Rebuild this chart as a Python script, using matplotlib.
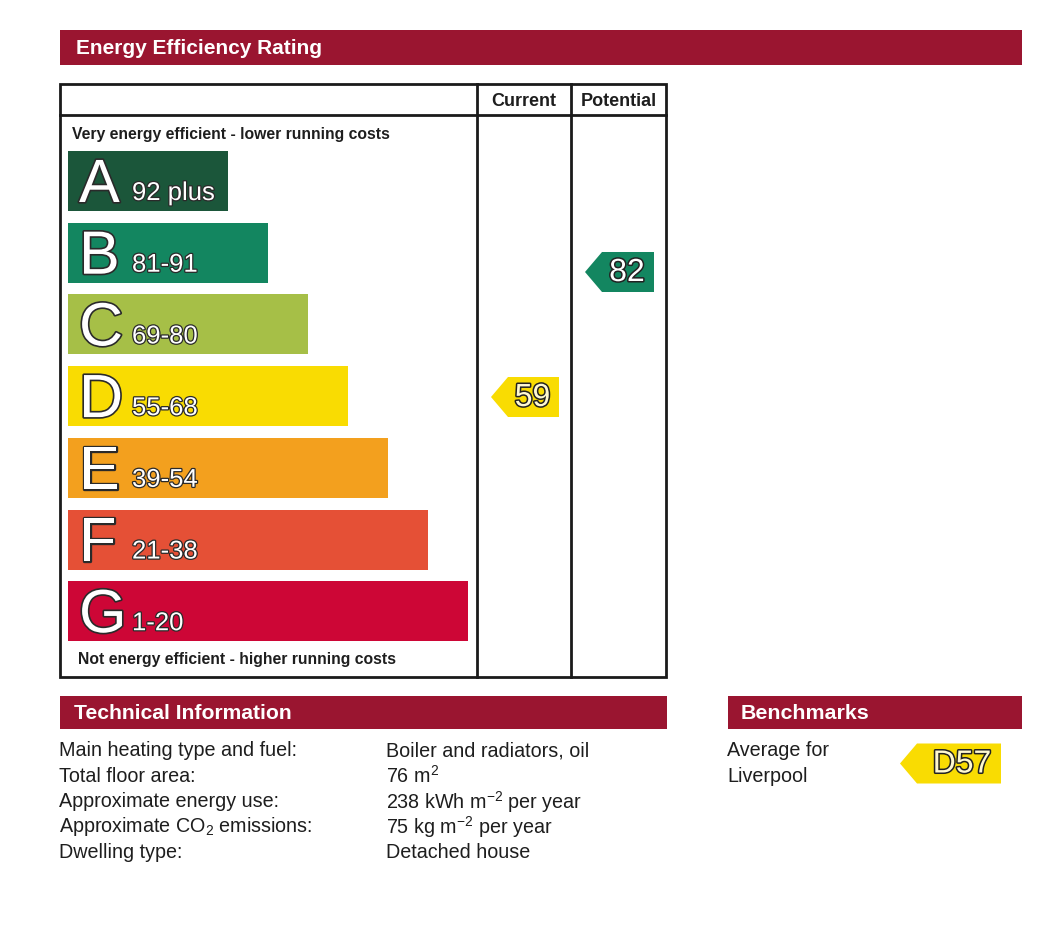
import matplotlib
matplotlib.use("Agg")
import matplotlib.pyplot as plt
from matplotlib.patches import Rectangle, Polygon
import matplotlib.patheffects as pe

plt.rcParams['font.family'] = ['Liberation Sans', 'DejaVu Sans']
plt.rcParams['mathtext.fontset'] = 'custom'
plt.rcParams['mathtext.rm'] = 'Liberation Sans'
plt.rcParams['mathtext.default'] = 'regular'

# ---------------- data ----------------
bands = ['A', 'B', 'C', 'D', 'E', 'F', 'G']
band_ranges = ['92 plus', '81-91', '69-80', '55-68', '39-54', '21-38', '1-20']
band_min = [92, 81, 69, 55, 39, 21, 1]
band_colors = ['#1B563A', '#138660', '#A6BF47', '#F9DC02', '#F3A01E', '#E55036', '#CD0636']
current_rating = 59
potential_rating = 82
column_titles = ['Current', 'Potential']
top_note = 'Very energy efficient - lower running costs'
bottom_note = 'Not energy efficient - higher running costs'
info_labels = ['Main heating type and fuel:', 'Total floor area:', 'Approximate energy use:',
               r'Approximate CO$_2$ emissions:', 'Dwelling type:']
info_values = ['Boiler and radiators, oil', r'76 m$^2$', r'238 kWh m$^{-2}$ per year',
               r'75 kg m$^{-2}$ per year', 'Detached house']
benchmark_text = ['Average for', 'Liverpool']
benchmark_band = 'D'
benchmark_rating = 57

HEADER = '#9A1530'
TXT = '#1E1E1E'

fig = plt.figure(figsize=(10.53, 9.28), dpi=100)
ax = fig.add_axes([0, 0, 1, 1])
ax.set_xlim(0, 1053)
ax.set_ylim(928, 0)
ax.axis('off')


def band_of(score):
    for i, m in enumerate(band_min):
        if score >= m:
            return i
    return len(band_min) - 1


def score_to_y(s):
    return 398 + (59 - s) * 5.435


def arrow(x_tip, x_right, yc, color, label, fill, fs=23, dx=-1):
    notch, half = 17, 20
    pts = [(x_tip, yc), (x_tip + notch, yc - half), (x_right, yc - half),
           (x_right, yc + half), (x_tip + notch, yc + half)]
    ax.add_patch(Polygon(pts, closed=True, facecolor=color, edgecolor='none'))
    ax.text((x_tip + notch + x_right) / 2 + dx, yc + 1, label, ha='center', va='center',
            fontsize=fs, color=fill,
            path_effects=[pe.withStroke(linewidth=2.2, foreground='#222222')])


# header bar
ax.add_patch(Rectangle((60, 31), 962, 35, facecolor=HEADER, edgecolor='none'))
ax.text(76, 49, 'Energy Efficiency Rating', ha='left', va='center', fontsize=15,
        fontweight='bold', color='white')

# main box
lw = 2.0
ax.add_patch(Rectangle((60, 85), 606, 593, facecolor='none', edgecolor='#1a1a1a', lw=lw))
ax.plot([477, 477], [85, 678], color='#1a1a1a', lw=lw)
ax.plot([571, 571], [85, 678], color='#1a1a1a', lw=lw)
ax.plot([60, 666], [116, 116], color='#1a1a1a', lw=lw)
col_l = [477, 571]
col_r = [571, 666]
for t, l, r in zip(column_titles, col_l, col_r):
    ax.text((l + r) / 2, 101, t, ha='center', va='center', fontsize=13,
            fontweight='bold', color=TXT)

ax.text(72, 135, top_note, ha='left', va='center', fontsize=11.3, fontweight='bold', color=TXT)
ax.text(78, 660, bottom_note, ha='left', va='center', fontsize=11.3, fontweight='bold', color=TXT)

# bands
pitch = 71.7
bh = 60
for i, (b, rng, c) in enumerate(zip(bands, band_ranges, band_colors)):
    top = 152 + i * pitch
    w = 160 + 40 * i
    ax.add_patch(Rectangle((68, top), w, bh, facecolor=c, edgecolor='none'))
    ax.text(79, top + bh - 9, b, ha='left', va='baseline', fontsize=44, color='white',
            path_effects=[pe.withStroke(linewidth=2.4, foreground='#2a2a2a')])
    ax.text(132, top + bh - 11, rng, ha='left', va='baseline', fontsize=18.5, color='white',
            path_effects=[pe.withStroke(linewidth=1.8, foreground='#2a2a2a')])

# rating arrows
for k, score in enumerate([current_rating, potential_rating]):
    bi = band_of(score)
    fill = 'white' if bi < 2 else '#FFF9D0'
    arrow(col_l[k] + 14, col_r[k] - 12, score_to_y(score), band_colors[bi], str(score), fill)

# technical information
ax.add_patch(Rectangle((60, 697), 607, 33, facecolor=HEADER, edgecolor='none'))
ax.text(74, 714, 'Technical Information', ha='left', va='center', fontsize=15.2,
        fontweight='bold', color='white')
for j, (lab, val) in enumerate(zip(info_labels, info_values)):
    y = 751 + j * 25.3
    ax.text(59, y, lab, ha='left', va='center', fontsize=14.2, color=TXT)
    ax.text(386, y, val, ha='left', va='center', fontsize=14.2, color=TXT)

# benchmarks
ax.add_patch(Rectangle((728, 697), 294, 33, facecolor=HEADER, edgecolor='none'))
ax.text(741, 714, 'Benchmarks', ha='left', va='center', fontsize=15.4,
        fontweight='bold', color='white')
for j, t in enumerate(benchmark_text):
    ax.text(727, 751 + j * 25.3, t, ha='left', va='center', fontsize=14.2, color=TXT)
arrow(900, 1001, 764.5, band_colors[bands.index(benchmark_band)],
      f'{benchmark_band}{benchmark_rating}', '#FFF9D0', fs=23, dx=3)

fig.savefig('out.png', dpi=100, facecolor='white')
